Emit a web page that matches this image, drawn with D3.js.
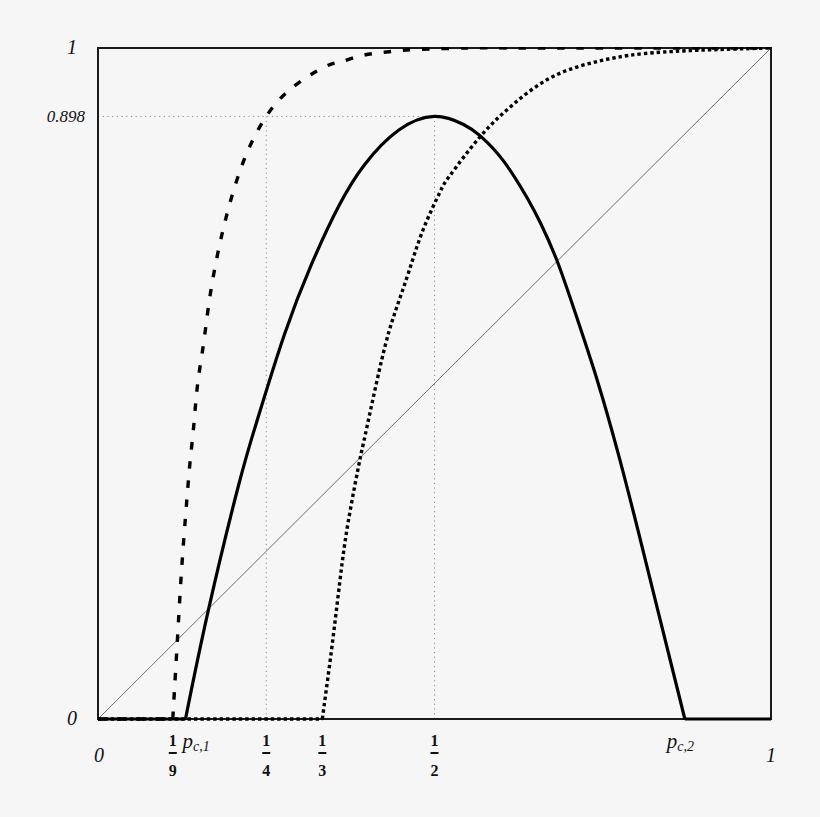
<!DOCTYPE html>
<html>
<head>
<meta charset="utf-8">
<script src="https://cdn.jsdelivr.net/npm/d3@7"></script>
<style>
  html, body { margin: 0; padding: 0; background: #f6f6f6; }
  svg { display: block; }
  text { font-family: "Liberation Serif", "Times New Roman", "DejaVu Serif", serif; fill: #111; }
</style>
</head>
<body>
<script>
// ---- data ----
const solidX = [0.130, 0.1635, 0.208, 0.238, 0.277, 0.317, 0.357, 0.396, 0.446, 0.5, 0.5431, 0.568, 0.603, 0.638, 0.658, 0.6828, 0.7127, 0.7427, 0.7725, 0.8024, 0.8324, 0.872];
const solidY = [0, 0.160, 0.345, 0.450, 0.573, 0.677, 0.763, 0.826, 0.877, 0.898, 0.886, 0.869, 0.831, 0.776, 0.738, 0.681, 0.5946, 0.502, 0.3973, 0.281, 0.1595, 0];

const dashX = [0.1111, 0.118, 0.1245, 0.1318, 0.1367, 0.1426, 0.148, 0.1565, 0.164, 0.1738, 0.186, 0.201, 0.221, 0.248, 0.285, 0.335, 0.362, 0.389, 0.419, 0.449, 0.478, 0.55, 0.65, 1];
const dashY = [0, 0.118, 0.227, 0.324, 0.382, 0.4407, 0.499, 0.557, 0.614, 0.673, 0.730, 0.786, 0.843, 0.895, 0.938, 0.971, 0.980, 0.988, 0.993, 0.996, 0.998, 1, 1, 1];

const dotX = [0.3333, 0.347, 0.359, 0.3715, 0.389, 0.397, 0.4215, 0.441, 0.461, 0.483, 0.508, 0.523, 0.568, 0.617, 0.677, 0.751, 0.840, 1];
const dotY = [0, 0.103, 0.202, 0.292, 0.386, 0.423, 0.535, 0.605, 0.664, 0.729, 0.785, 0.810, 0.868, 0.916, 0.958, 0.982, 0.994, 1];

const peakValue = 0.898;
const peakX = 0.5;
const dashAtPeakX = 0.25;
const pc1 = 0.130;
const pc2 = 0.872;

const fracValues = [1/9, 1/4, 1/3, 1/2];
const fracNum = ["1", "1", "1", "1"];
const fracDen = ["9", "4", "3", "2"];

const yTickValues = [0, peakValue, 1];
const yTickLabels = ["0", "0.898", "1"];
const xEndValues = [0, 1];
const xEndLabels = ["0", "1"];

// ---- drawing ----
const W = 820, H = 817;
const svg = d3.select("body").append("svg").attr("width", W).attr("height", H);
svg.append("rect").attr("width", W).attr("height", H).attr("fill", "#f6f6f6");

const x = d3.scaleLinear().domain([0, 1]).range([98, 771]);
const y = d3.scaleLinear().domain([0, 1]).range([719, 48]);

const zip = (xs, ys) => xs.map((v, i) => [v, ys[i]]);
const curveLine = d3.line().x(d => x(d[0])).y(d => y(Math.min(1, d[1]))).curve(d3.curveNatural);
const straight = d3.line().x(d => x(d[0])).y(d => y(d[1]));

// clip to plot so spline never leaves the frame
svg.append("defs").append("clipPath").attr("id", "plotclip")
  .append("rect").attr("x", x(0) - 3).attr("y", y(1) - 1).attr("width", x(1) - x(0) + 6).attr("height", y(0) - y(1) + 4);

// reference dotted guides
const guide = svg.append("g").attr("stroke", "#8a8a8a").attr("stroke-width", 1).attr("stroke-dasharray", "1.2,3.5").attr("fill", "none");
guide.append("path").attr("d", straight([[0, peakValue], [peakX, peakValue]]));
guide.append("path").attr("d", straight([[dashAtPeakX, 0], [dashAtPeakX, peakValue]]));
guide.append("path").attr("d", straight([[peakX, 0], [peakX, peakValue]]));

// diagonal
svg.append("path").attr("d", straight([[0, 0], [1, 1]]))
  .attr("stroke", "#6e6e6e").attr("stroke-width", 1).attr("fill", "none");

// frame
svg.append("rect")
  .attr("x", x(0)).attr("y", y(1)).attr("width", x(1) - x(0)).attr("height", y(0) - y(1))
  .attr("fill", "none").attr("stroke", "#1a1a1a").attr("stroke-width", 2);

const curves = svg.append("g").attr("clip-path", "url(#plotclip)");

// dotted curve
const dotG = curves.append("g").attr("fill", "none").attr("stroke", "#000").attr("stroke-width", 3.4).attr("stroke-dasharray", "3.4,3");
dotG.append("path").attr("d", straight([[0, 0], [dotX[0], 0]]));
dotG.append("path").attr("d", curveLine(zip(dotX, dotY)));

// dashed curve
const dashG = curves.append("g").attr("fill", "none").attr("stroke", "#000").attr("stroke-width", 3.4).attr("stroke-dasharray", "7.5,11.8");
dashG.append("path").attr("d", straight([[0, 0], [dashX[0], 0]]));
dashG.append("path").attr("d", curveLine(zip(dashX, dashY)));

// solid curve
const solG = curves.append("g").attr("fill", "none").attr("stroke", "#000").attr("stroke-width", 3.2).attr("stroke-linejoin", "round");
solG.append("path").attr("d", straight([[0, 0], [solidX[0], 0]]));
solG.append("path").attr("d", curveLine(zip(solidX, solidY)));
solG.append("path").attr("d", straight([[solidX[solidX.length - 1], 0], [1, 0]]));

// y labels
svg.selectAll("text.ylab").data(yTickValues).enter().append("text")
  .attr("class", "ylab")
  .attr("x", (d, i) => i === 1 ? 85 : 72)
  .attr("y", d => y(d) + 6)
  .attr("text-anchor", (d, i) => i === 1 ? "end" : "middle")
  .attr("font-style", "italic")
  .attr("font-size", (d, i) => i === 1 ? 17 : 20)
  .text((d, i) => yTickLabels[i]);

// x end labels
svg.selectAll("text.xend").data(xEndValues).enter().append("text")
  .attr("class", "xend")
  .attr("x", d => x(d) + (d === 0 ? 1 : 0))
  .attr("y", 762)
  .attr("text-anchor", "middle")
  .attr("font-style", "italic")
  .attr("font-size", 20)
  .text((d, i) => xEndLabels[i]);

// fraction labels
const frac = svg.selectAll("g.frac").data(fracValues).enter().append("g").attr("class", "frac");
frac.append("text")
  .attr("x", d => x(d)).attr("y", 746)
  .attr("text-anchor", "middle").attr("font-weight", "bold").attr("font-size", 16)
  .text((d, i) => fracNum[i]);
frac.append("line")
  .attr("x1", d => x(d) - 4).attr("x2", d => x(d) + 4)
  .attr("y1", 753).attr("y2", 753)
  .attr("stroke", "#111").attr("stroke-width", 2);
frac.append("text")
  .attr("x", d => x(d)).attr("y", 776)
  .attr("text-anchor", "middle").attr("font-weight", "bold").attr("font-size", 16)
  .text((d, i) => fracDen[i]);

// critical point labels
function pcLabel(xpos, sub) {
  const t = svg.append("text").attr("x", xpos).attr("y", 748).attr("font-style", "italic");
  t.append("tspan").attr("font-size", 21).text("p");
  t.append("tspan").attr("font-size", 14).attr("dy", 3).text(sub);
}
pcLabel(x(pc1) - 3, "c,1");
pcLabel(x(pc2) - 18, "c,2");
</script>
</body>
</html>
